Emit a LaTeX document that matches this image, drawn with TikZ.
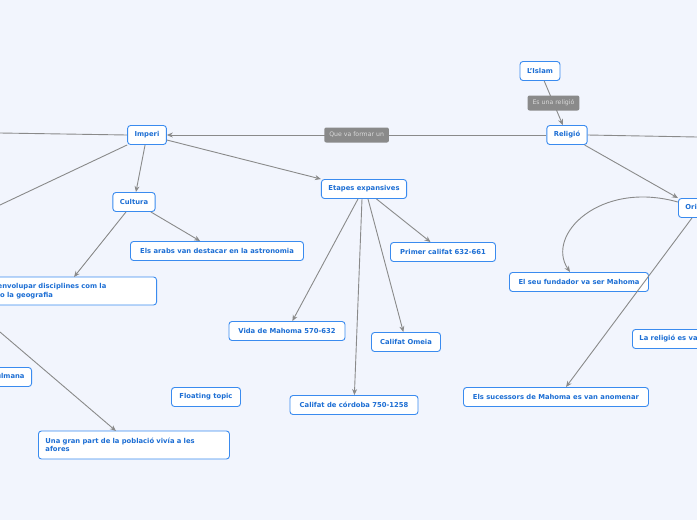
\documentclass[tikz,border=0pt]{standalone}
\usepackage{fontspec}
\setmainfont{DejaVu Sans}
\usetikzlibrary{arrows.meta}
\definecolor{bg}{HTML}{F2F5FD}
\definecolor{tb}{HTML}{1C6ED4}
\definecolor{bd}{HTML}{3A8BEF}
\definecolor{ln}{HTML}{8A8A8A}
\tikzset{
 topic/.style={draw=bd,line width=0.9pt,fill=white,rounded corners=3pt,text=tb,font=\fontsize{6.8}{8.5}\selectfont\bfseries,inner xsep=7pt,inner ysep=0pt,minimum height=19pt},
 tall/.style={topic,minimum height=28pt,align=left},
 lab/.style={fill=ln,rounded corners=2pt,text=white!85!black,font=\fontsize{6.2}{7}\selectfont,minimum height=15pt,inner xsep=5pt,inner ysep=0pt},
 con/.style={draw=ln,line width=0.9pt},
 arr/.style={con,-{Stealth[length=6pt,width=5pt]}}
}
\begin{document}
\begin{tikzpicture}[x=1pt,y=-1pt]
\useasboundingbox (0,0) rectangle (697,520);
\fill[bg] (0,0) rectangle (697,520);
\begin{scope}
\clip (0,0) rectangle (697,520);
\node[topic] (islam) at (540,71) {L'Islam};
\node[topic] (rel) at (567,135) {Religió};
\node[topic] (imp) at (147,135) {Imperi};
\node[topic] (cult) at (134,202) {Cultura};
\node[topic] (etap) at (364,189) {Etapes expansives};
\node[topic,minimum width=173pt] (arabs) at (217,251) {Els arabs van destacar en la astronomia};
\node[topic,minimum width=105pt] (prim) at (443,252) {Primer califat 632-661};
\node[tall,anchor=east,text width=182pt] (des) at (157,291) {Van desenvolupar disciplines com la\\filosofia o la geografia};
\node[topic,minimum width=116pt] (vida) at (287,331) {Vida de Mahoma 570-632};
\node[topic,minimum width=69pt] (omeia) at (406,342) {Califat Omeia};
\node[topic,minimum width=128pt] (cord) at (354,405) {Califat de córdoba 750-1258};
\node[topic,minimum width=69pt] (float) at (206,397) {Floating topic};
\node[topic,anchor=east] (mus) at (32,377) {Religió musulmana};
\node[tall,anchor=west,text width=177pt] (gran) at (38,445) {Una gran part de la població vivía a les\\afores};
\node[topic,anchor=west] (ori) at (678,208) {Origen};
\node[topic,minimum width=139pt] (fund) at (579,282) {El seu fundador va ser Mahoma};
\node[topic,anchor=west] (lare) at (632,339) {La religió es va};
\node[topic,minimum width=185pt] (succ) at (556,397) {Els sucessors de Mahoma es van anomenar};
\coordinate (le) at (0,133);
\coordinate (re) at (697,137);
\coordinate (ld) at (0,205);
\coordinate (lg) at (0,332);
\draw[arr] (rel.west) -- node[lab]{Que va formar un} (imp.east);
\draw[arr] (islam) -- node[lab,pos=0.5]{Es una religió} (rel);
\draw[con] (imp.west) -- (le);
\draw[con] (rel.east) -- (re);
\draw[con] (imp.south west) -- (ld);
\draw[arr] (imp) -- (cult);
\draw[arr] (imp.east) ++(0,5) -- (etap.north west);
\draw[arr] (cult) -- (arabs);
\draw[arr] (cult.south) ++(-8,0) -- (74,277);
\draw[arr] (etap) -- (prim);
\draw[arr] (etap.south) ++(-6,0) -- (vida);
\draw[arr] (etap.south) ++(4,0) -- (omeia);
\draw[arr] (etap.south) ++(-2,0) -- (cord);
\draw[arr] (lg) -- (116,431);
\draw[arr] (rel) -- (ori.north west);
\draw[arr] (ori.north west) ++(0,4) .. controls (600,180) and (545,235) .. (570,272);
\draw[arr] (ori.south west) ++(14,0) -- (566,387);
\end{scope}
\end{tikzpicture}
\end{document}
